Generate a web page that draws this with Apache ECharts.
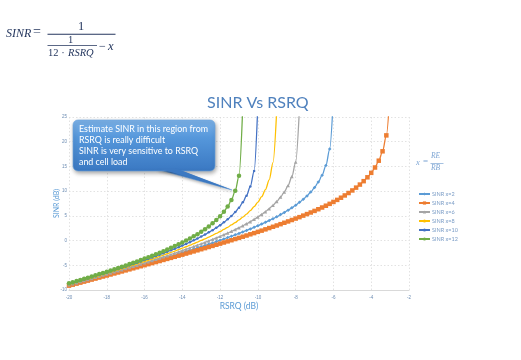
<!DOCTYPE html>
<html>
<head>
<meta charset="utf-8">
<script src="https://cdn.jsdelivr.net/npm/echarts@6/dist/echarts.min.js"></script>
<style>html,body{margin:0;padding:0;background:#fff;}#c{width:521px;height:360px;}</style>
</head>
<body>
<div id="c"></div>
<script>
// RSRQ (dB) sample points, 0.2 dB step
var rsrq = [-20,-19.8,-19.6,-19.4,-19.2,-19,-18.8,-18.6,-18.4,-18.2,
  -18,-17.8,-17.6,-17.4,-17.2,-17,-16.8,-16.6,-16.4,-16.2,
  -16,-15.8,-15.6,-15.4,-15.2,-15,-14.8,-14.6,-14.4,-14.2,
  -14,-13.8,-13.6,-13.4,-13.2,-13,-12.8,-12.6,-12.4,-12.2,
  -12,-11.8,-11.6,-11.4,-11.2,-11,-10.8,-10.6,-10.4,-10.2,
  -10,-9.8,-9.6,-9.4,-9.2,-9,-8.8,-8.6,-8.4,-8.2,
  -8,-7.8,-7.6,-7.4,-7.2,-7,-6.8,-6.6,-6.4,-6.2,
  -6,-5.8,-5.6,-5.4,-5.2,-5,-4.8,-4.6,-4.4,-4.2,
  -4,-3.8,-3.6,-3.4,-3.2,-3];

// SINR (dB) per series, aligned with rsrq from -20
var sinrX2 = [-9.03,-8.82,-8.61,-8.40,-8.19,-7.98,-7.77,-7.56,-7.35,-7.14,
  -6.92,-6.71,-6.50,-6.28,-6.06,-5.85,-5.63,-5.41,-5.19,-4.97,
  -4.75,-4.53,-4.30,-4.08,-3.85,-3.62,-3.39,-3.16,-2.93,-2.69,
  -2.46,-2.22,-1.98,-1.73,-1.49,-1.24,-0.99,-0.73,-0.47,-0.21,
  0.06,0.33,0.60,0.88,1.16,1.45,1.75,2.05,2.36,2.68,
  3.01,3.35,3.70,4.06,4.44,4.83,5.25,5.68,6.14,6.63,
  7.16,7.73,8.35,9.04,9.83,10.74,11.84,13.23,15.17,18.52,
  29.3];
var sinrX4 = [-9.12,-8.92,-8.71,-8.51,-8.30,-8.10,-7.89,-7.69,-7.48,-7.27,
  -7.07,-6.86,-6.65,-6.45,-6.24,-6.03,-5.82,-5.61,-5.40,-5.19,
  -4.98,-4.77,-4.56,-4.35,-4.14,-3.92,-3.71,-3.50,-3.28,-3.06,
  -2.85,-2.63,-2.41,-2.19,-1.97,-1.75,-1.53,-1.30,-1.08,-0.85,
  -0.62,-0.39,-0.16,0.07,0.31,0.54,0.78,1.02,1.27,1.51,
  1.76,2.01,2.27,2.53,2.79,3.05,3.32,3.60,3.87,4.16,
  4.45,4.74,5.05,5.36,5.68,6.00,6.34,6.69,7.05,7.43,
  7.82,8.23,8.67,9.13,9.62,10.14,10.71,11.33,12.02,12.80,
  13.70,14.78,16.16,18.06,21.28,30.5];
var sinrX6 = [-8.94,-8.73,-8.51,-8.30,-8.08,-7.87,-7.65,-7.43,-7.21,-6.99,
  -6.77,-6.55,-6.33,-6.11,-5.88,-5.65,-5.43,-5.20,-4.97,-4.73,
  -4.50,-4.26,-4.02,-3.78,-3.54,-3.29,-3.05,-2.80,-2.54,-2.28,
  -2.02,-1.76,-1.49,-1.22,-0.94,-0.65,-0.37,-0.07,0.23,0.54,
  0.86,1.19,1.52,1.87,2.23,2.60,2.99,3.40,3.83,4.29,
  4.77,5.29,5.85,6.46,7.14,7.91,8.79,9.84,11.16,12.96,
  15.88,26.72];
var sinrX8 = [-8.85,-8.63,-8.41,-8.19,-7.97,-7.75,-7.52,-7.30,-7.07,-6.85,
  -6.62,-6.39,-6.16,-5.93,-5.69,-5.45,-5.21,-4.97,-4.73,-4.48,
  -4.23,-3.98,-3.73,-3.47,-3.21,-2.94,-2.67,-2.40,-2.12,-1.83,
  -1.54,-1.25,-0.94,-0.63,-0.31,0.02,0.36,0.71,1.07,1.45,
  1.84,2.26,2.69,3.16,3.65,4.18,4.75,5.37,6.07,6.86,
  7.78,8.89,10.30,12.28,15.78,26.6];
var sinrX10 = [-8.75,-8.53,-8.30,-8.08,-7.85,-7.62,-7.39,-7.16,-6.93,-6.70,
  -6.46,-6.22,-5.98,-5.74,-5.49,-5.24,-4.99,-4.74,-4.48,-4.22,
  -3.95,-3.68,-3.41,-3.13,-2.85,-2.56,-2.26,-1.96,-1.65,-1.33,
  -1.00,-0.67,-0.32,0.05,0.42,0.81,1.22,1.66,2.11,2.60,
  3.12,3.69,4.30,4.99,5.76,6.66,7.73,9.09,10.95,14.06,
  27.7];
var sinrX12 = [-8.65,-8.43,-8.20,-7.96,-7.73,-7.50,-7.26,-7.02,-6.78,-6.54,
  -6.29,-6.04,-5.79,-5.54,-5.28,-5.02,-4.75,-4.49,-4.21,-3.93,
  -3.65,-3.36,-3.07,-2.76,-2.45,-2.14,-1.81,-1.47,-1.12,-0.76,
  -0.39,0.00,0.41,0.85,1.30,1.79,2.31,2.87,3.49,4.17,
  4.94,5.83,6.89,8.23,10.06,13.09,27.23];

var seriesNames = ['SINR x=2','SINR x=4','SINR x=6','SINR x=8','SINR x=10','SINR x=12'];
var xTicks = [-20,-18,-16,-14,-12,-10,-8,-6,-4,-2];
var yTicks = [-10,-5,0,5,10,15,20,25];
var calloutLines = ['Estimate SINR in this region from', 'RSRQ is really difficult',
  'SINR is very sensitive to RSRQ', 'and cell load'];

function pairs(vals){ return vals.map(function(v,i){ return [rsrq[i], v]; }); }

var styles = [
  {color:'#5B9BD5', symbol:'diamond', size:3.5},
  {color:'#ED7D31', symbol:'rect', size:4.5},
  {color:'#A5A5A5', symbol:'triangle', size:3.5},
  {color:'#FFC000', symbol:'none', size:0},
  {color:'#4472C4', symbol:'circle', size:2.5},
  {color:'#70AD47', symbol:'circle', size:4.5}
];
var allVals = [sinrX2, sinrX4, sinrX6, sinrX8, sinrX10, sinrX12];

var series = allVals.map(function(vals, k){
  var s = styles[k];
  return {
    name: seriesNames[k], type:'line', data: pairs(vals),
    smooth: 0.3, smoothMonotone: 'x', clip: true,
    symbol: s.symbol, symbolSize: s.size, showSymbol: s.symbol !== 'none',
    lineStyle: {color: s.color, width: 1.3},
    itemStyle: {color: s.color},
    emphasis: {disabled: true}, animation: false, z: 2 + k
  };
});

var fc = '#24365e';
var lc = '#7fa6d4';
function txt(x, y, t, font, fill, z){
  return {type:'text', x: x, y: y, z: z || 10,
    style:{text: t, font: font, fill: fill, verticalAlign: 'top', align: 'left'}};
}
function bar(x, y, w, h, fill){
  return {type:'rect', shape:{x:x, y:y, width:w, height:h}, style:{fill: fill}, z: 10};
}

var calloutFill = {type:'linear', x:0, y:0, x2:0, y2:1, colorStops:[
  {offset:0, color:'#7cb2e8'}, {offset:0.35, color:'#5597db'}, {offset:1, color:'#3a78c2'}]};

var graphics = [
  txt(6, 28, 'SINR', 'italic 12px "Liberation Serif"', fc),
  txt(33, 25.5, '=', '14px "Liberation Serif"', fc),
  bar(47.5, 33.8, 68, 0.9, fc),
  txt(78, 20.5, '1', '12.5px "Liberation Serif"', fc),
  txt(68, 35, '1', '10.5px "Liberation Serif"', fc),
  bar(47.5, 45.3, 49.5, 0.8, fc),
  txt(48, 47.5, '12 · ', '10.5px "Liberation Serif"', fc),
  txt(68, 47.5, 'RSRQ', 'italic 10.5px "Liberation Serif"', fc),
  txt(99, 40.5, '−', '12px "Liberation Serif"', fc),
  txt(108, 40.5, 'x', 'italic 12.5px "Liberation Serif"', fc),
  txt(416, 158, 'x', 'italic 8.5px "Liberation Serif"', lc),
  txt(423, 157.5, '=', '9px "Liberation Serif"', lc),
  txt(431, 152.5, 'RE', 'italic 7.5px "Liberation Serif"', lc),
  bar(430.5, 163.2, 13, 0.7, lc),
  txt(431, 164.5, 'RB', 'italic 7.5px "Liberation Serif"', lc),
  {type:'polygon', z: 49,
    shape:{points:[[156,169],[176,169],[232,190]]},
    style:{fill:'#3f7cc4', stroke:'#5f98d8', lineWidth:0.5,
      shadowBlur: 3, shadowColor:'rgba(0,0,0,0.3)', shadowOffsetX:1, shadowOffsetY:1.5}},
  {type:'rect', z: 50,
    shape:{x:73, y:120, width:142, height:51, r:5},
    style:{fill: calloutFill, stroke:'#6aa3de', lineWidth:0.6,
      shadowBlur: 4, shadowColor:'rgba(0,0,0,0.35)', shadowOffsetX:1, shadowOffsetY:2}},
  {type:'polygon', z: 51,
    shape:{points:[[157,168],[175,168],[231,189.5]]},
    style:{fill:'#3c79c2'}}
];
calloutLines.forEach(function(line, i){
  graphics.push(txt(79, 125 + i * 11, line, '8.9px Lato', '#ffffff', 52));
});

var chart = echarts.init(document.getElementById('c'), null, {renderer:'canvas'});
chart.setOption({
  animation: false,
  backgroundColor: '#ffffff',
  title: {
    text: 'SINR Vs RSRQ', left: 202, top: 90,
    textStyle: {fontFamily: 'Lato', fontSize: 16, fontWeight: 'normal', color: '#4F81BD'}
  },
  grid: {left: 69, right: 112, top: 117, bottom: 70, containLabel: false},
  xAxis: {
    type: 'value', min: -20, max: -2, interval: 2,
    name: 'RSRQ (dB)', nameLocation: 'middle', nameGap: 12, nameMoveOverlap: false,
    nameTextStyle: {fontFamily: 'Lato', fontSize: 8.5, color: '#5B9BD5'},
    axisLine: {show: true, onZero: false, lineStyle: {color: '#d9d9d9', width: 1}},
    axisTick: {show: false},
    axisLabel: {fontSize: 4.5, color: '#6d8db3', margin: 5,
      formatter: function(v){ return xTicks.indexOf(v) >= 0 ? String(v) : ''; }},
    splitLine: {show: true, lineStyle: {color: '#dadada', type: [1.5, 2], width: 0.8}}
  },
  yAxis: {
    type: 'value', min: -10, max: 25, interval: 5,
    name: 'SINR (dB)', nameLocation: 'middle', nameGap: 9, nameRotate: 90, nameMoveOverlap: false,
    nameTextStyle: {fontFamily: 'Lato', fontSize: 7, color: '#5B9BD5'},
    axisLine: {show: false, onZero: false}, axisTick: {show: false},
    axisLabel: {fontSize: 4.5, color: '#6d8db3', margin: 2,
      formatter: function(v){ return yTicks.indexOf(v) >= 0 ? String(v) : ''; }},
    splitLine: {show: true, lineStyle: {color: '#dadada', type: [1.5, 2], width: 0.8}}
  },
  legend: {
    orient: 'vertical', left: 413, top: 186, itemWidth: 11, itemHeight: 4, itemGap: 3,
    data: seriesNames,
    textStyle: {fontFamily: 'Lato', fontSize: 5.5, color: '#7a9cc6', padding: [0,0,0,-3]},
    selectedMode: false
  },
  series: series,
  graphic: graphics
});
</script>
</body>
</html>
